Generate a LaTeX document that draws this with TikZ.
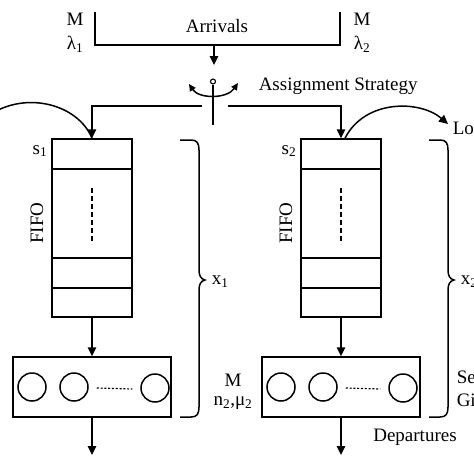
\documentclass[tikz,border=0pt]{standalone}
\usepackage{fontspec}
\setmainfont{Liberation Serif}
\usetikzlibrary{arrows.meta}
\begin{document}
\begin{tikzpicture}[x=1pt,y=-1pt,line width=1.5pt,
  lab/.style={font=\fontsize{19}{22}\selectfont,inner sep=0pt},
  qbox/.style={draw,minimum width=80pt,minimum height=178pt,inner sep=0pt},
  sbox/.style={draw,minimum width=158pt,minimum height=60pt,inner sep=0pt},
  srv/.style={draw,circle,minimum size=28pt,inner sep=0pt},
  arr/.style={-{Triangle[length=9pt,width=8.5pt]}},
  sarr/.style={{Triangle[length=7pt,width=6.5pt]}-{Triangle[length=7pt,width=6.5pt]}},
  brace/.style={line width=1.5pt}]
\useasboundingbox (0,0) rectangle (474,474);
% Arrivals bracket
\coordinate (al) at (95,12);
\coordinate (ar) at (340,12);
\draw (al) |- (214,45) -| (ar);
\coordinate (af) at (214,45);
\coordinate (sw) at (214,65);
\draw[arr] (af) -- (sw);
\node[lab] (arrivals) at (217,26) {Arrivals};
\node[lab] (m1) at (75,19) {M};
\node[lab] (l1) at (75,44) {λ\textsubscript{1}};
\node[lab] (m2) at (362,19) {M};
\node[lab] (l2) at (362,44) {λ\textsubscript{2}};
% switch
\node[draw,circle,minimum size=5pt,inner sep=0pt,line width=1.1pt] (pivot) at (213,81.5) {};
\coordinate (swb) at (213,125);
\draw (pivot.south) -- (swb);
\coordinate (arcl) at (189,84);
\coordinate (arcr) at (238,83);
\draw[sarr] (arcl) .. controls (199,99) and (227,99) .. (arcr);
\node[lab,anchor=west] (assign) at (258,86) {Assignment Strategy};
% queue nodes
\node[qbox] (q1) at (92,228) {};
\node[qbox] (q2) at (341,228) {};
% distribution lines
\coordinate (dl) at (202,106);
\coordinate (dr) at (228,106);
\draw[arr] (dl) -| (q1.north);
\draw[arr] (dr) -| (q2.north);
% incoming / loss curves
\coordinate (inL) at (-12,116);
\draw (inL) .. controls (25,90) and (78,104) .. (q1.north);
\coordinate (loss) at (448,124);
\draw[arr] ([xshift=4pt]q2.north) .. controls (365,99) and (420,100) .. (loss);
\node[lab,anchor=west] (losstxt) at (452,128) {Lo};
% queue internals
\foreach \q/\dx in {q1/0,q2/249}{
  \draw (52+\dx,169) -- (132+\dx,169);
  \draw (52+\dx,258) -- (132+\dx,258);
  \draw (52+\dx,288) -- (132+\dx,288);
  \draw[dash pattern=on 5pt off 3pt] (92+\dx,188) -- (92+\dx,244);
}
\node[lab] (s1) at (40,151) {s\textsubscript{1}};
\node[lab] (s2) at (289,151) {s\textsubscript{2}};
\node[lab,rotate=90] (f1) at (37,223) {FIFO};
\node[lab,rotate=90] (f2) at (286,223) {FIFO};
% service boxes
\node[sbox] (b1) at (92,387) {};
\node[sbox] (b2) at (341,387) {};
\draw[arr] (q1.south) -- (b1.north);
\draw[arr] (q2.south) -- (b2.north);
\coordinate (e1) at (92,455);
\coordinate (e2) at (341,455);
\draw[arr] (b1.south) -- (e1);
\draw[arr] (b2.south) -- (e2);
\node[srv] (c11) at (32,387) {};
\node[srv] (c12) at (74,387) {};
\node[srv] (c13) at (155,388) {};
\node[srv] (c21) at (281,387) {};
\node[srv] (c22) at (323,387) {};
\node[srv] (c23) at (403,388) {};
\draw[line width=1.2pt,dash pattern=on 2pt off 1.8pt] (c12.east) ++(8,1) -- ([xshift=-8pt,yshift=-1pt]c13.west);
\draw[line width=1.2pt,dash pattern=on 2pt off 1.8pt] (c22.east) ++(8,1) -- ([xshift=-8pt,yshift=-1pt]c23.west);
% braces
\foreach \dx in {0,249}{
  \draw[brace] (180+\dx,140) -- (191+\dx,140) .. controls (197+\dx,140) and (199+\dx,143) .. (199+\dx,150)
    -- (199+\dx,270) .. controls (199+\dx,276) and (201+\dx,279) .. (205+\dx,280)
    .. controls (201+\dx,281) and (199+\dx,284) .. (199+\dx,290)
    -- (199+\dx,407) .. controls (199+\dx,414) and (197+\dx,417) .. (191+\dx,417) -- (180+\dx,417);
}
\node[lab,anchor=west] (x1) at (211,282) {x\textsubscript{1}};
\node[lab,anchor=west] (x2) at (460,282) {x\textsubscript{2}};
\node[lab] (mm) at (233,380) {M};
\node[lab] (nm) at (233,403) {n\textsubscript{2},μ\textsubscript{2}};
\node[lab,anchor=west] (se) at (456,377) {Se};
\node[lab,anchor=west] (gi) at (456,400) {Gi};
\node[lab] (dep) at (415,437) {Departures};
\end{tikzpicture}
\end{document}
